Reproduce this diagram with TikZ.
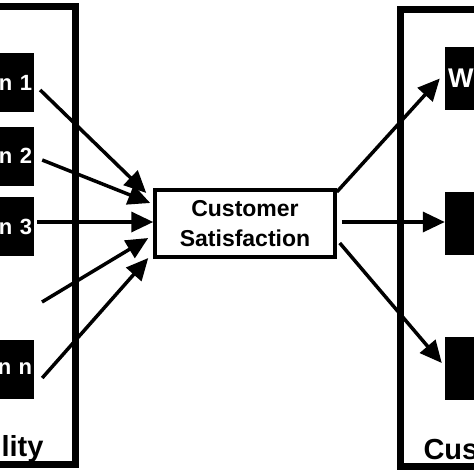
\documentclass[tikz,border=0pt]{standalone}
\usepackage{fontspec}
\setmainfont{Liberation Sans}
\usetikzlibrary{arrows.meta,calc}

\def \frameWidth {7pt}
\def \arrowWidth {3.5pt}

\tikzset{
  dimbox/.style={fill=black, text=white, inner sep=0pt, minimum width=44pt,
    minimum height=59pt, text width=40pt, align=right,
    font=\fontsize{22}{26}\selectfont\bfseries},
  outbox/.style={fill=black, text=white, inner sep=0pt, minimum width=40pt,
    minimum height=63pt, text width=34pt, align=left,
    font=\fontsize{27}{30}\selectfont\bfseries},
  satbox/.style={draw, line width=3.5pt, fill=white, minimum width=180pt,
    minimum height=67pt, align=center, inner sep=0pt,
    font=\fontsize{23}{30}\selectfont\bfseries},
  bigarrow/.style={-{Triangle[length=22pt,width=20pt]}, line width=\arrowWidth},
}

\begin{document}
\begin{tikzpicture}[x=1pt, y=-1pt]
  \useasboundingbox (0,0) rectangle (474,474);

  % the two frames
  \draw[line width=\frameWidth] (-10,6) -- (75,6) -- (75,464) -- (-10,464);
  \draw[line width=\frameWidth] (484,9) -- (400,9) -- (400,466) -- (484,466);
  \node[anchor=base west, font=\fontsize{29}{32}\selectfont\bfseries] (qual) at (-2,456) {lity};
  \node[anchor=base west, font=\fontsize{29}{32}\selectfont\bfseries] (cust) at (420,459) {Cus};

  % left boxes
  \node[dimbox] (d1) at (12,82.5) {n 1};
  \node[dimbox] (d2) at (12,156) {n 2};
  \node[dimbox] (d3) at (12,226.5) {n 3};
  \node[dimbox] (dn) at (12,369) {n n};
  \coordinate (dx) at (42,302);

  % centre
  \node[satbox] (cs) at (245,223.5) {Customer\\Satisfaction};

  % right boxes
  \node[outbox] (w1) at (465,78.5) {W};
  \node[outbox] (w2) at (465,223.5) {};
  \node[outbox] (w3) at (465,368.5) {};

  % arrows in
  \draw[bigarrow] ($(d1.east)+(6,7.5)$) -- ($(cs.west)+(-7,-30.5)$);
  \draw[bigarrow] ($(d2.east)+(8,4)$) -- ($(cs.west)+(-3,-20.5)$);
  \draw[bigarrow] ($(d3.east)+(3,-4.5)$) -- ($(cs.west)+(0,-1.5)$);
  \draw[bigarrow] (dx) -- ($(cs.west)+(-5,14.5)$);
  \draw[bigarrow] ($(dn.east)+(8,9)$) -- ($(cs.west)+(-5,34.5)$);

  % arrows out
  \draw[bigarrow] ($(cs.east)+(0,-31.5)$) -- ($(w1.west)+(-5,0)$);
  \draw[bigarrow] ($(cs.east)+(5,-1.5)$) -- ($(w2.west)+(0,-1.5)$);
  \draw[bigarrow] ($(cs.east)+(3,19.5)$) -- ($(w3.west)+(-3,-5.5)$);
\end{tikzpicture}
\end{document}
